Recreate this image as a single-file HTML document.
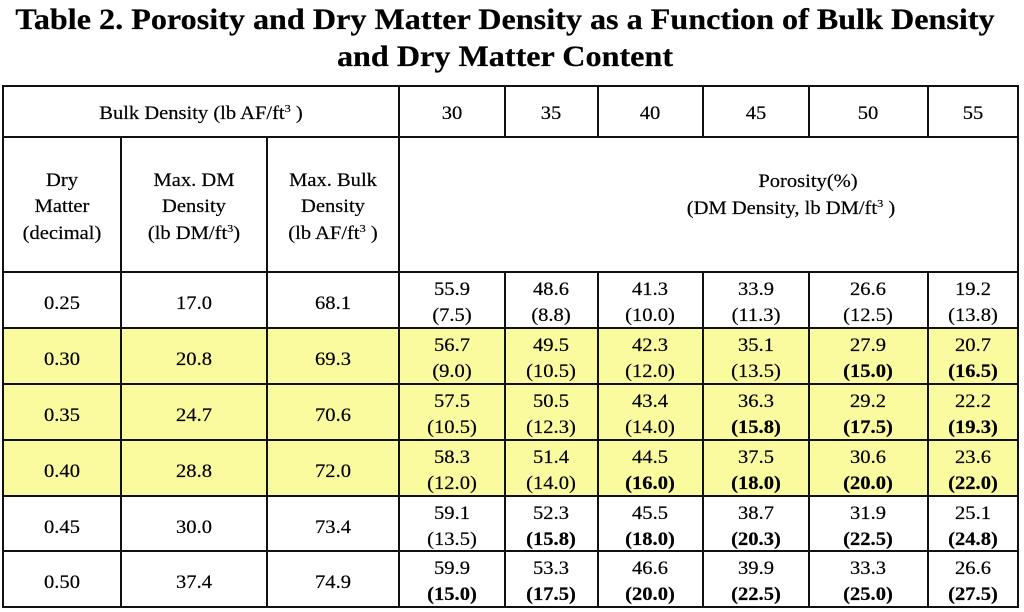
<!DOCTYPE html>
<html>
<head>
<meta charset="utf-8">
<style>
  html, body { margin:0; padding:0; background:#fff; }
  #c { position:relative; width:1024px; height:612px; overflow:hidden; background:#fff; font-family:"Liberation Serif", "Times New Roman", serif; color:#000; }
  .h { position:absolute; height:2px; background:#111; left:2px; width:1017px; }
  .v { position:absolute; width:2px; background:#111; }
  .t { position:absolute; width:260px; margin-left:-130px; text-align:center; line-height:20px; font-size:18.5px; transform:scaleX(1.11); transform-origin:50% 50%; white-space:nowrap; -webkit-text-stroke:0.2px #000; }
  .b { font-weight:bold; }
  .title { position:absolute; left:0; width:1010px; text-align:center; font-weight:bold; font-size:29.5px; line-height:36px; transform:scaleX(1.09); transform-origin:505px 0; white-space:nowrap; -webkit-text-stroke:0.2px #000; }
  sup { font-size:11px; vertical-align:0; position:relative; top:-7px; line-height:0; }
  .y { position:absolute; left:3px; width:1015px; top:328px; height:167px; background:#fafa9e; }
</style>
</head>
<body>
<div id="c">
  <div class="title" style="top:1.5px">Table 2. Porosity and Dry Matter Density as a Function of Bulk Density</div>
  <div class="title" style="top:39px">and Dry Matter Content</div>

  <div class="y"></div>

  <!-- horizontal lines -->
  <div class="h" style="top:85px"></div>
  <div class="h" style="top:136px"></div>
  <div class="h" style="top:271px"></div>
  <div class="h" style="top:327px"></div>
  <div class="h" style="top:383px"></div>
  <div class="h" style="top:439px"></div>
  <div class="h" style="top:495px"></div>
  <div class="h" style="top:550px"></div>
  <div class="h" style="top:606px"></div>

  <!-- vertical lines -->
  <div class="v" style="left:2px;top:85px;height:523px"></div>
  <div class="v" style="left:119.5px;top:136px;height:472px"></div>
  <div class="v" style="left:266px;top:136px;height:472px"></div>
  <div class="v" style="left:397.5px;top:85px;height:523px"></div>
  <div class="v" style="left:1017px;top:85px;height:523px"></div>

  <div class="v" style="left:504px;top:85px;height:52px"></div>
  <div class="v" style="left:596.5px;top:85px;height:52px"></div>
  <div class="v" style="left:702px;top:85px;height:52px"></div>
  <div class="v" style="left:808px;top:85px;height:52px"></div>
  <div class="v" style="left:926.5px;top:85px;height:52px"></div>

  <div class="v" style="left:504px;top:271px;height:337px"></div>
  <div class="v" style="left:596.5px;top:271px;height:337px"></div>
  <div class="v" style="left:702px;top:271px;height:337px"></div>
  <div class="v" style="left:808px;top:271px;height:337px"></div>
  <div class="v" style="left:926.5px;top:271px;height:337px"></div>

  <!-- header row 1 -->
  <div class="t" style="left:200.75px;top:104px">Bulk Density (lb AF/ft<sup>3</sup> )</div>
  <div class="t" style="left:451.75px;top:104px">30</div>
  <div class="t" style="left:551.25px;top:104px">35</div>
  <div class="t" style="left:650.25px;top:104px">40</div>
  <div class="t" style="left:756px;top:104px">45</div>
  <div class="t" style="left:868.25px;top:104px">50</div>
  <div class="t" style="left:972.75px;top:104px">55</div>

  <!-- header row 2 -->
  <div class="t" style="left:61.75px;top:171px">Dry</div>
  <div class="t" style="left:61.75px;top:197px">Matter</div>
  <div class="t" style="left:61.75px;top:223.5px">(decimal)</div>

  <div class="t" style="left:193.75px;top:171px">Max. DM</div>
  <div class="t" style="left:193.75px;top:197px">Density</div>
  <div class="t" style="left:193.75px;top:223.5px">(lb DM/ft<sup>3</sup>)</div>

  <div class="t" style="left:332.75px;top:171px">Max. Bulk</div>
  <div class="t" style="left:332.75px;top:197px">Density</div>
  <div class="t" style="left:332.75px;top:223.5px">(lb AF/ft<sup>3</sup> )</div>

  <div class="t" style="left:808px;top:172px">Porosity(%)</div>
  <div class="t" style="left:791px;top:199px">(DM Density, lb DM/ft<sup>3</sup> )</div>

  <!-- row 0.25 -->
  <div class="t" style="left:61.75px;top:294px">0.25</div>
  <div class="t" style="left:193.75px;top:294px">17.0</div>
  <div class="t" style="left:332.75px;top:294px">68.1</div>
  <div class="t" style="left:451.75px;top:279.5px">55.9</div><div class="t" style="left:451.75px;top:305.5px">(7.5)</div>
  <div class="t" style="left:551.25px;top:279.5px">48.6</div><div class="t" style="left:551.25px;top:305.5px">(8.8)</div>
  <div class="t" style="left:650.25px;top:279.5px">41.3</div><div class="t" style="left:650.25px;top:305.5px">(10.0)</div>
  <div class="t" style="left:756px;top:279.5px">33.9</div><div class="t" style="left:756px;top:305.5px">(11.3)</div>
  <div class="t" style="left:868.25px;top:279.5px">26.6</div><div class="t" style="left:868.25px;top:305.5px">(12.5)</div>
  <div class="t" style="left:972.75px;top:279.5px">19.2</div><div class="t" style="left:972.75px;top:305.5px">(13.8)</div>

  <!-- row 0.30 -->
  <div class="t" style="left:61.75px;top:350px">0.30</div>
  <div class="t" style="left:193.75px;top:350px">20.8</div>
  <div class="t" style="left:332.75px;top:350px">69.3</div>
  <div class="t" style="left:451.75px;top:335.5px">56.7</div><div class="t" style="left:451.75px;top:361.5px">(9.0)</div>
  <div class="t" style="left:551.25px;top:335.5px">49.5</div><div class="t" style="left:551.25px;top:361.5px">(10.5)</div>
  <div class="t" style="left:650.25px;top:335.5px">42.3</div><div class="t" style="left:650.25px;top:361.5px">(12.0)</div>
  <div class="t" style="left:756px;top:335.5px">35.1</div><div class="t" style="left:756px;top:361.5px">(13.5)</div>
  <div class="t" style="left:868.25px;top:335.5px">27.9</div><div class="t b" style="left:868.25px;top:361.5px">(15.0)</div>
  <div class="t" style="left:972.75px;top:335.5px">20.7</div><div class="t b" style="left:972.75px;top:361.5px">(16.5)</div>

  <!-- row 0.35 -->
  <div class="t" style="left:61.75px;top:406px">0.35</div>
  <div class="t" style="left:193.75px;top:406px">24.7</div>
  <div class="t" style="left:332.75px;top:406px">70.6</div>
  <div class="t" style="left:451.75px;top:391.5px">57.5</div><div class="t" style="left:451.75px;top:417.5px">(10.5)</div>
  <div class="t" style="left:551.25px;top:391.5px">50.5</div><div class="t" style="left:551.25px;top:417.5px">(12.3)</div>
  <div class="t" style="left:650.25px;top:391.5px">43.4</div><div class="t" style="left:650.25px;top:417.5px">(14.0)</div>
  <div class="t" style="left:756px;top:391.5px">36.3</div><div class="t b" style="left:756px;top:417.5px">(15.8)</div>
  <div class="t" style="left:868.25px;top:391.5px">29.2</div><div class="t b" style="left:868.25px;top:417.5px">(17.5)</div>
  <div class="t" style="left:972.75px;top:391.5px">22.2</div><div class="t b" style="left:972.75px;top:417.5px">(19.3)</div>

  <!-- row 0.40 -->
  <div class="t" style="left:61.75px;top:462px">0.40</div>
  <div class="t" style="left:193.75px;top:462px">28.8</div>
  <div class="t" style="left:332.75px;top:462px">72.0</div>
  <div class="t" style="left:451.75px;top:447.5px">58.3</div><div class="t" style="left:451.75px;top:473.5px">(12.0)</div>
  <div class="t" style="left:551.25px;top:447.5px">51.4</div><div class="t" style="left:551.25px;top:473.5px">(14.0)</div>
  <div class="t" style="left:650.25px;top:447.5px">44.5</div><div class="t b" style="left:650.25px;top:473.5px">(16.0)</div>
  <div class="t" style="left:756px;top:447.5px">37.5</div><div class="t b" style="left:756px;top:473.5px">(18.0)</div>
  <div class="t" style="left:868.25px;top:447.5px">30.6</div><div class="t b" style="left:868.25px;top:473.5px">(20.0)</div>
  <div class="t" style="left:972.75px;top:447.5px">23.6</div><div class="t b" style="left:972.75px;top:473.5px">(22.0)</div>

  <!-- row 0.45 -->
  <div class="t" style="left:61.75px;top:518px">0.45</div>
  <div class="t" style="left:193.75px;top:518px">30.0</div>
  <div class="t" style="left:332.75px;top:518px">73.4</div>
  <div class="t" style="left:451.75px;top:503.5px">59.1</div><div class="t" style="left:451.75px;top:529.5px">(13.5)</div>
  <div class="t" style="left:551.25px;top:503.5px">52.3</div><div class="t b" style="left:551.25px;top:529.5px">(15.8)</div>
  <div class="t" style="left:650.25px;top:503.5px">45.5</div><div class="t b" style="left:650.25px;top:529.5px">(18.0)</div>
  <div class="t" style="left:756px;top:503.5px">38.7</div><div class="t b" style="left:756px;top:529.5px">(20.3)</div>
  <div class="t" style="left:868.25px;top:503.5px">31.9</div><div class="t b" style="left:868.25px;top:529.5px">(22.5)</div>
  <div class="t" style="left:972.75px;top:503.5px">25.1</div><div class="t b" style="left:972.75px;top:529.5px">(24.8)</div>

  <!-- row 0.50 -->
  <div class="t" style="left:61.75px;top:573px">0.50</div>
  <div class="t" style="left:193.75px;top:573px">37.4</div>
  <div class="t" style="left:332.75px;top:573px">74.9</div>
  <div class="t" style="left:451.75px;top:558.5px">59.9</div><div class="t b" style="left:451.75px;top:584.5px">(15.0)</div>
  <div class="t" style="left:551.25px;top:558.5px">53.3</div><div class="t b" style="left:551.25px;top:584.5px">(17.5)</div>
  <div class="t" style="left:650.25px;top:558.5px">46.6</div><div class="t b" style="left:650.25px;top:584.5px">(20.0)</div>
  <div class="t" style="left:756px;top:558.5px">39.9</div><div class="t b" style="left:756px;top:584.5px">(22.5)</div>
  <div class="t" style="left:868.25px;top:558.5px">33.3</div><div class="t b" style="left:868.25px;top:584.5px">(25.0)</div>
  <div class="t" style="left:972.75px;top:558.5px">26.6</div><div class="t b" style="left:972.75px;top:584.5px">(27.5)</div>
</div>
</body>
</html>
